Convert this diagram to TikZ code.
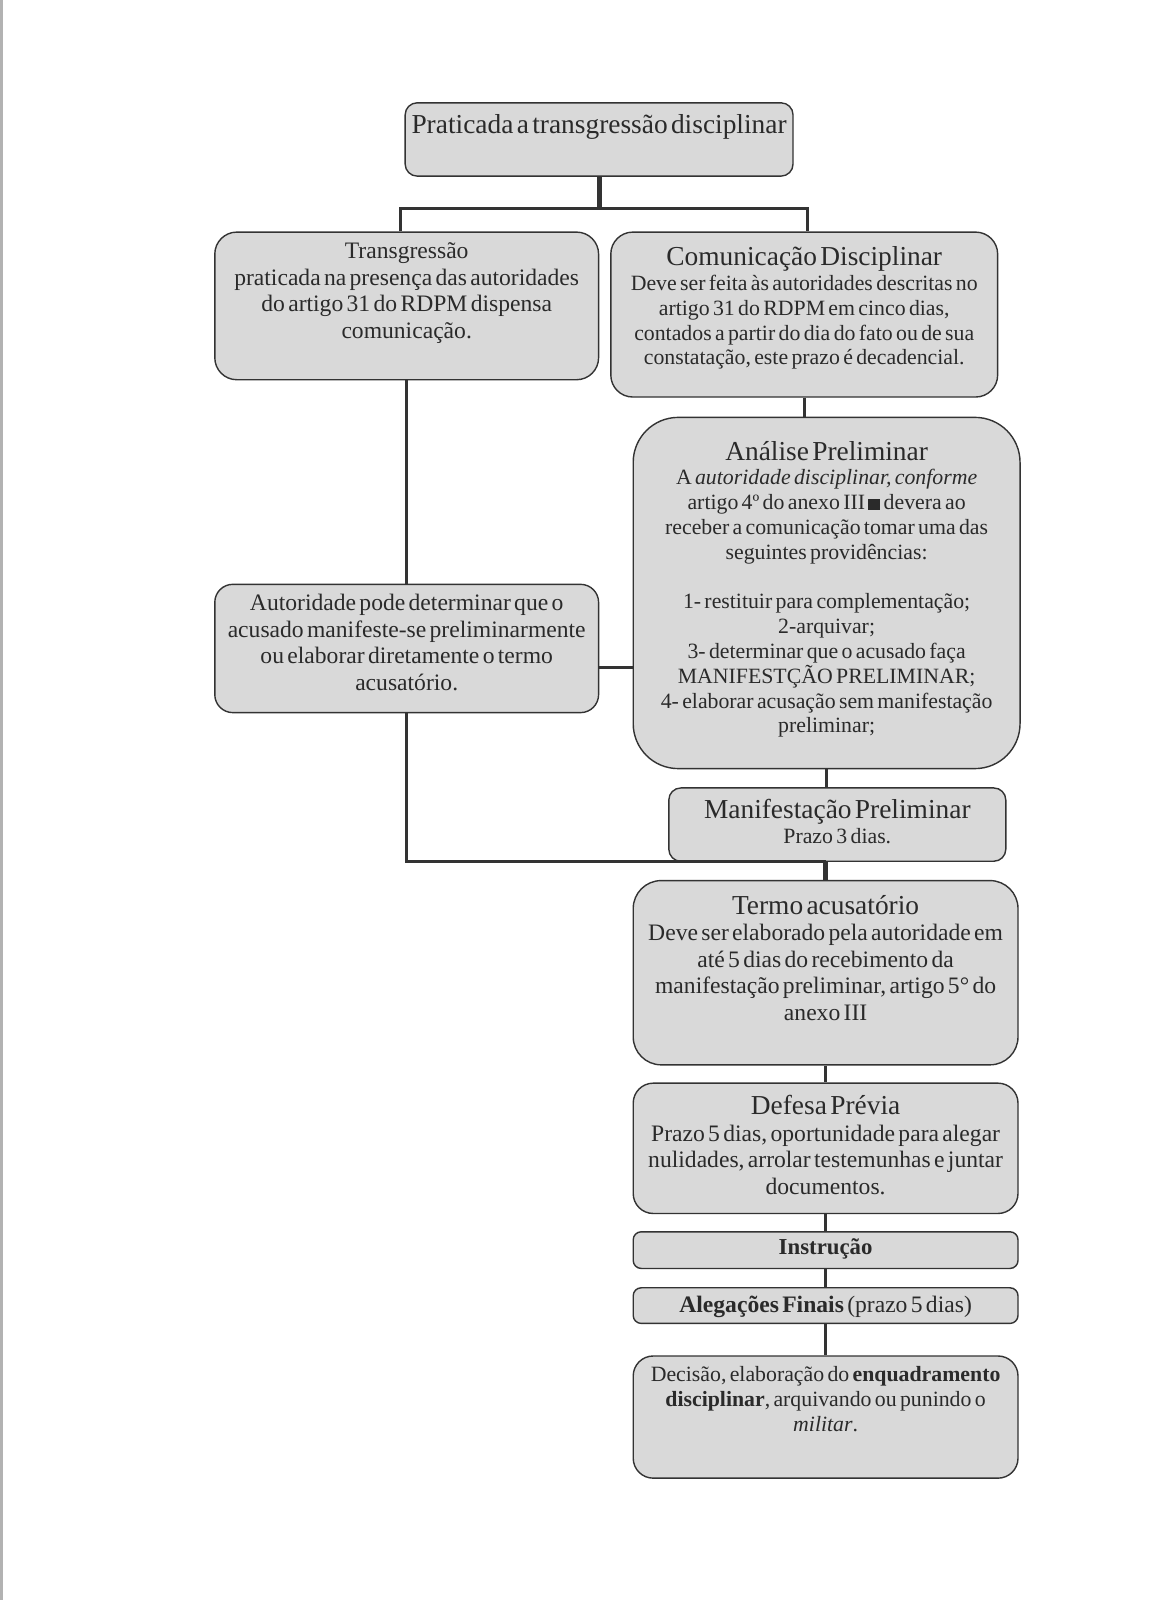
\documentclass[tikz,border=0pt]{standalone}
\usepackage{fontspec}
\setmainfont{Liberation Serif}
\definecolor{boxfill}{HTML}{D9D9D9}
\definecolor{linec}{HTML}{333333}
\definecolor{textc}{HTML}{2A2A2A}
\newcommand\ttlf{\fontsize{27.4}{30}\selectfont}
\newcommand\bodyf{\fontsize{23.6}{26.5}\selectfont}
\newcommand\bodyg{\fontsize{21.8}{24.8}\selectfont}
\newcommand\bx[6]{%
  \node[box, rounded corners=#6pt, minimum width={(#4-#2)*1.018}, minimum height={(#5-#3)*1.018}] (#1) at ({(#2+#4)/2},{(#3+#5)/2}) {};}
\begin{document}
\begin{tikzpicture}[x=1.018pt,y=-1.018pt,
  box/.style={draw=linec, line width=1.4pt, fill=boxfill, inner sep=0pt},
  txt/.style={text=textc, align=center, text width=#1, inner sep=0pt, anchor=base},
  txt/.default=400pt,
  conn/.style={draw=linec, line width=3pt},
  stem/.style={draw=linec, line width=5pt}]
\useasboundingbox[fill=white] (0,0) rectangle (1142.4,1571.7);
\fill[gray!60] (0,0) rectangle (3,1571.7);
% boxes
\bx{b1}{398}{101}{779}{173}{12}
\bx{b2}{211}{228}{588}{373}{22}
\bx{b3}{600}{228}{980}{390}{22}
\bx{b4}{622}{410}{1002}{755}{45}
\bx{b5}{211}{574}{588}{700}{18}
\bx{b6}{657}{774}{988}{846}{12}
\bx{b7}{622}{865}{1000}{1046}{28}
\bx{b8}{622}{1064}{1000}{1192}{20}
\bx{b9}{622}{1210}{1000}{1246}{8}
\bx{b10}{622}{1265}{1000}{1300}{8}
\bx{b11}{622}{1332}{1000}{1452}{20}
% texts
\node[txt] (t1) at (588.5,131) {\ttlf Praticada a transgressão disciplinar\par};
\node[txt] (t2) at (399.5,254) {\bodyf Transgressão\\ praticada na presença das autoridades\\ do artigo 31 do RDPM dispensa\\ comunicação.\par};
\node[txt] (t3) at (790,261) {{\ttlf Comunicação Disciplinar}\\ \bodyg Deve ser feita às autoridades descritas no\\ artigo 31 do RDPM em cinco dias,\\ contados a partir do dia do fato ou de sua\\ constatação, este prazo é decadencial.\par};
\node[txt] (t4) at (812,452) {{\ttlf Análise Preliminar}\\ \bodyg A \textit{autoridade disciplinar, conforme}\\ artigo 4º do anexo III \rule{12pt}{11pt} devera ao\\ receber a comunicação tomar uma das\\ seguintes providências:\\ \mbox{}\\ 1- restituir para complementação;\\ 2-arquivar;\\ 3- determinar que o acusado faça\\ MANIFESTÇÃO PRELIMINAR;\\ 4- elaborar acusação sem manifestação\\ preliminar;\par};
\node[txt] (t5) at (399.5,600) {\bodyf Autoridade pode determinar que o\\ acusado manifeste-se preliminarmente\\ ou elaborar diretamente o termo\\ acusatório.\par};
\node[txt] (t6) at (822.5,804) {{\ttlf Manifestação Preliminar}\\ \bodyg Prazo 3 dias.\par};
\node[txt] (t7) at (811,898) {{\ttlf Termo acusatório}\\ \bodyf Deve ser elaborado pela autoridade em\\ até 5 dias do recebimento da\\ manifestação preliminar, artigo 5° do\\ anexo III\par};
\node[txt] (t8) at (811,1095) {{\ttlf Defesa Prévia}\\ \bodyf Prazo 5 dias, oportunidade para alegar\\ nulidades, arrolar testemunhas e juntar\\ documentos.\par};
\node[txt] (t9) at (811,1232) {\fontsize{22.8}{26}\selectfont\bfseries Instrução\par};
\node[txt] (t10) at (811,1289) {\bodyf\textbf{Alegações Finais} (prazo 5 dias)\par};
\node[txt] (t11) at (811,1357) {\bodyg Decisão, elaboração do \textbf{enquadramento}\\ \textbf{disciplinar}, arquivando ou punindo o\\ \textit{militar}.\par};
% connectors
\coordinate (jl) at (393,205);
\coordinate (jr) at (793,205);
\coordinate (yl) at (0,656);
\draw[conn] (b2.north -| jl) -- (jl) -- (jr) -- (b3.north -| jr);
\draw[stem] (b1.south) -- (b1.south |- jl);
\draw[conn] (b2.south) -- (b5.north);
\draw[conn] (b3.south) -- (b3.south |- b4.north);
\draw[conn] (b5.east |- yl) -- (b4.west |- yl);
\draw[conn] (b4.south) -- (b4.south |- b6.north);
\draw[conn] (b5.south) |- (b7.north |- b6.south);
\draw[stem] (b7.north |- b6.south) -- (b7.north);
\draw[conn] (b7.south) -- (b8.north);
\draw[conn] (b8.south) -- (b9.north);
\draw[conn] (b9.south) -- (b10.north);
\draw[conn] (b10.south) -- (b11.north);
\end{tikzpicture}
\end{document}
